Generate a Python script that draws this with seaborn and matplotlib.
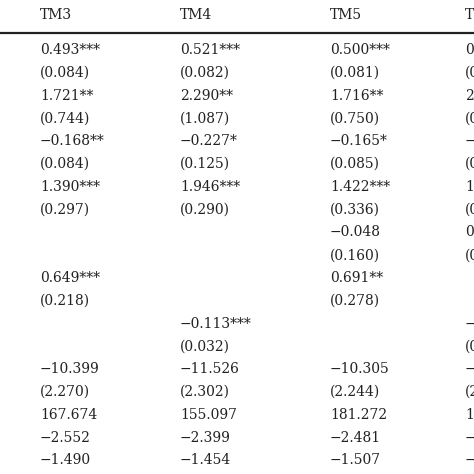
import matplotlib
matplotlib.use("Agg")
import matplotlib.pyplot as plt
import seaborn as sns

sns.set_theme(style="white")
plt.rcParams['font.family'] = ['DejaVu Serif']

headers = ["TM3", "TM4", "TM5", "TM6"]
tm3 = ["0.493***", "(0.084)", "1.721**", "(0.744)", "\u22120.168**", "(0.084)", "1.390***", "(0.297)",
       "", "", "0.649***", "(0.218)", "", "", "\u221210.399", "(2.270)", "167.674", "\u22122.552", "\u22121.490"]
tm4 = ["0.521***", "(0.082)", "2.290**", "(1.087)", "\u22120.227*", "(0.125)", "1.946***", "(0.290)",
       "", "", "", "", "\u22120.113***", "(0.032)", "\u221211.526", "(2.302)", "155.097", "\u22122.399", "\u22121.454"]
tm5 = ["0.500***", "(0.081)", "1.716**", "(0.750)", "\u22120.165*", "(0.085)", "1.422***", "(0.336)",
       "\u22120.048", "(0.160)", "0.691**", "(0.278)", "", "", "\u221210.305", "(2.244)", "181.272", "\u22122.481", "\u22121.507"]
tm6 = ["0.5", "(0.0", "2.1", "(0.9", "\u22120.1", "(0.0", "1.4", "(0.3",
       "0.0", "(0.1", "", "", "\u22120.1", "(0.0", "\u221210", "(2.2", "170", "\u22122.4", "\u22121.4"]
columns = [tm3, tm4, tm5, tm6]

fig = plt.figure(figsize=(4.74, 4.74), dpi=100)
ax = fig.add_axes([0, 0, 1, 1])
ax.set_xlim(0, 474)
ax.set_ylim(474, 0)
ax.axis("off")

col_x = [40, 180, 330, 465]
fs = 10
for cx, h, col in zip(col_x, headers, columns):
    ax.text(cx, 15, h, fontsize=fs, va="center", ha="left", color="#222222")
    for i, v in enumerate(col):
        if v:
            ax.text(cx, 50 + i * 22.8, v, fontsize=fs, va="center", ha="left", color="#222222")

ax.plot([0, 474], [33, 33], color="#222222", lw=1.6)
fig.savefig("out.png", dpi=100)
